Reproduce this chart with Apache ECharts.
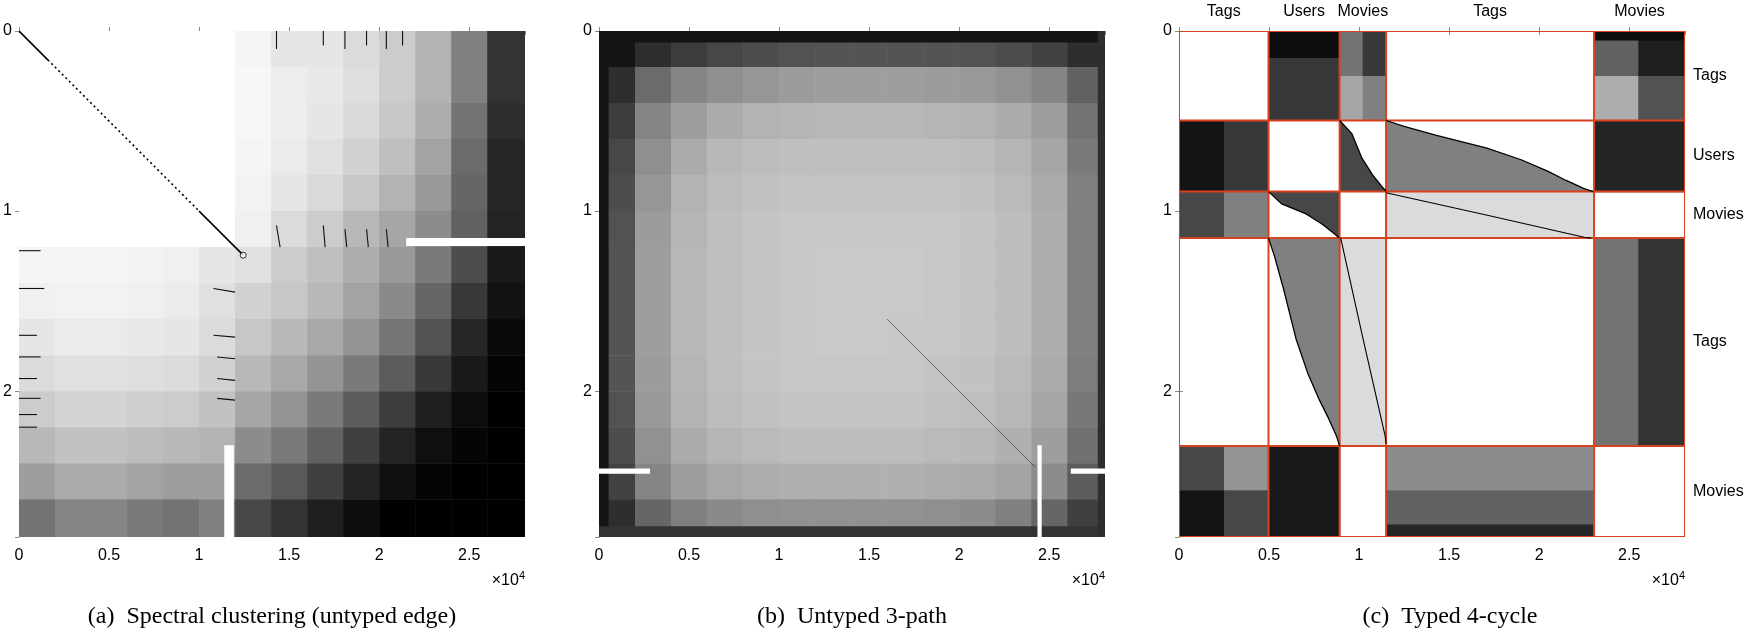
<!DOCTYPE html>
<html><head><meta charset="utf-8">
<script src="https://cdn.jsdelivr.net/npm/echarts@6/dist/echarts.min.js"></script>
<style>html,body{margin:0;padding:0;background:#fff}#c{width:1748px;height:634px}</style>
</head><body><div id="c"></div>
<script>
// ---------- data (matrix indices in units of 1e4) ----------
const N = 2.81;
const xTickStep = 0.5;
const yTickStep = 1;
const bins = [0,0.2,0.4,0.6,0.8,1.0,1.2,1.4,1.6,1.8,2.0,2.2,2.4,2.6,2.81];

// (a) spectral clustering: estimated nonzero density per bin (rows = y bins, cols = x bins)
const densityA = [
 [0,0,0,0,0,0, 0.04,0.10,0.10,0.14,0.20,0.30,0.50,0.80],
 [0,0,0,0,0,0, 0.03,0.07,0.09,0.13,0.20,0.30,0.50,0.80],
 [0,0,0,0,0,0, 0.03,0.07,0.10,0.15,0.22,0.32,0.55,0.82],
 [0,0,0,0,0,0, 0.04,0.08,0.12,0.18,0.25,0.36,0.58,0.85],
 [0,0,0,0,0,0, 0.05,0.10,0.15,0.22,0.30,0.40,0.60,0.85],
 [0,0,0,0,0,0, 0.06,0.14,0.20,0.28,0.35,0.45,0.62,0.86],
 [0.04,0.04,0.04,0.05,0.06,0.10, 0.12,0.20,0.25,0.32,0.40,0.52,0.70,0.90],
 [0.06,0.05,0.05,0.06,0.08,0.12, 0.18,0.22,0.28,0.36,0.46,0.60,0.78,0.93],
 [0.10,0.08,0.08,0.09,0.10,0.14, 0.22,0.28,0.34,0.42,0.54,0.68,0.85,0.96],
 [0.14,0.12,0.12,0.13,0.14,0.18, 0.28,0.34,0.42,0.52,0.64,0.78,0.90,0.98],
 [0.20,0.17,0.17,0.19,0.20,0.24, 0.35,0.42,0.52,0.64,0.76,0.88,0.95,1.00],
 [0.28,0.24,0.24,0.26,0.28,0.30, 0.45,0.52,0.62,0.75,0.86,0.94,0.98,1.00],
 [0.38,0.33,0.33,0.36,0.38,0.38, 0.58,0.65,0.75,0.86,0.94,0.98,1.00,1.00],
 [0.55,0.48,0.48,0.52,0.55,0.50, 0.72,0.80,0.88,0.95,1.00,1.00,1.00,1.00]
];
const gapsA = [[1.14,1.19,2.30,2.81],[2.15,2.81,1.15,1.19]];            // empty stripes [x0,x1,y0,y1]
const diagSolidA = [[0,0,0.16,0.16],[1.0,1.0,1.245,1.245]];             // [x0,y0,x1,y1]
const diagDottedA = [[0.16,0.16,1.0,1.0]];
const diagEndA = [[1.245,1.245]];
const streaksA = [
 [0,1.22,0.12,1.22],[0,1.43,0.14,1.43],[0,1.69,0.10,1.69],[0,1.81,0.12,1.81],
 [0,1.93,0.10,1.93],[0,2.04,0.12,2.04],[0,2.13,0.10,2.13],[0,2.20,0.10,2.20],
 [1.43,0,1.43,0.10],[1.69,0,1.69,0.08],[1.81,0,1.81,0.10],
 [1.93,0,1.93,0.08],[2.04,0,2.04,0.10],[2.13,0,2.13,0.08],
 [1.43,1.08,1.45,1.2],[1.69,1.08,1.70,1.2],[1.81,1.1,1.82,1.2],[1.93,1.1,1.94,1.2],[2.04,1.1,2.05,1.2],
 [1.08,1.43,1.2,1.45],[1.08,1.69,1.2,1.70],[1.1,1.81,1.2,1.82],[1.1,1.93,1.2,1.94],[1.1,2.04,1.2,2.05]
];

// (b) untyped 3-path
const densityB = [
 [0.92,0.82,0.76,0.72,0.70,0.68,0.67,0.67,0.67,0.67,0.68,0.70,0.74,0.82],
 [0.82,0.58,0.48,0.44,0.41,0.39,0.38,0.38,0.38,0.39,0.40,0.43,0.48,0.62],
 [0.76,0.48,0.38,0.33,0.30,0.29,0.28,0.28,0.28,0.29,0.30,0.33,0.38,0.55],
 [0.72,0.44,0.33,0.28,0.26,0.25,0.25,0.25,0.25,0.25,0.26,0.29,0.35,0.52],
 [0.70,0.41,0.30,0.26,0.24,0.23,0.23,0.23,0.23,0.23,0.24,0.27,0.33,0.50],
 [0.68,0.39,0.29,0.25,0.23,0.22,0.22,0.22,0.22,0.22,0.23,0.26,0.32,0.50],
 [0.67,0.38,0.28,0.25,0.23,0.22,0.21,0.21,0.21,0.22,0.23,0.26,0.32,0.50],
 [0.67,0.38,0.28,0.25,0.23,0.22,0.21,0.21,0.21,0.22,0.23,0.26,0.32,0.50],
 [0.67,0.38,0.28,0.25,0.23,0.22,0.21,0.21,0.22,0.22,0.23,0.26,0.32,0.50],
 [0.67,0.39,0.29,0.25,0.23,0.22,0.22,0.22,0.22,0.23,0.24,0.27,0.33,0.51],
 [0.68,0.40,0.30,0.26,0.24,0.23,0.23,0.23,0.23,0.24,0.25,0.28,0.35,0.53],
 [0.70,0.43,0.33,0.29,0.27,0.26,0.26,0.26,0.26,0.27,0.28,0.31,0.38,0.56],
 [0.74,0.48,0.38,0.34,0.32,0.31,0.31,0.31,0.31,0.32,0.33,0.36,0.45,0.64],
 [0.82,0.60,0.50,0.46,0.44,0.43,0.43,0.43,0.43,0.44,0.45,0.50,0.60,0.75]
];
const edgesB = [[0,N,0,0.06,0.92],[0,0.05,0,N,0.92],[0,N,2.75,N,0.8],[2.77,N,0,N,0.82]];
const gapsB = [[0,0.28,2.43,2.455],[2.62,N,2.43,2.455],[2.435,2.455,2.30,N]];
const diagB = [[1.6,1.6],[2.42,2.42]];

// (c) typed 4-cycle: block boundaries and block names
const blocksC = [0,0.497,0.892,1.15,2.305,2.81];
const blockNamesC = ['Tags','Users','Movies','Tags','Movies'];
const cellsC = [
 [0.497,0.892,0,0.15,0.95],[0.497,0.892,0.15,0.497,0.78],
 [0.892,1.02,0,0.25,0.55],[1.02,1.15,0,0.25,0.78],[0.892,1.02,0.25,0.497,0.35],[1.02,1.15,0.25,0.497,0.5],
 [2.305,2.55,0,0.25,0.62],[2.55,2.81,0,0.25,0.88],[2.305,2.55,0.25,0.497,0.32],[2.55,2.81,0.25,0.497,0.68],[2.305,2.81,0,0.05,0.95],
 [0,0.25,0.497,0.892,0.92],[0.25,0.497,0.497,0.892,0.78],
 [2.305,2.81,0.497,0.892,0.86],
 [0,0.25,0.892,1.15,0.72],[0.25,0.497,0.892,1.15,0.5],
 [1.15,2.305,0.892,1.15,0.14],
 [0.892,1.15,1.15,2.305,0.14],
 [2.305,2.55,1.15,2.305,0.55],[2.55,2.81,1.15,2.305,0.8],
 [0,0.25,2.305,2.55,0.72],[0.25,0.497,2.305,2.55,0.42],[0,0.25,2.55,2.81,0.92],[0.25,0.497,2.55,2.81,0.72],
 [0.497,0.892,2.305,2.81,0.9],
 [1.15,2.305,2.305,2.55,0.45],[1.15,2.305,2.55,2.81,0.62],[1.15,2.305,2.74,2.81,0.85]
];
const curveUM = [[0.892,0.497],[0.96,0.57],[1.016,0.706],[1.073,0.796],[1.13,0.868],[1.15,0.89]];
const curveUT = [[1.15,0.497],[1.25,0.53],[1.43,0.58],[1.71,0.65],[1.9,0.715],[2.05,0.78],[2.15,0.83],[2.25,0.875],[2.3,0.892]];
const curveMU = [[0.497,0.892],[0.57,0.96],[0.706,1.016],[0.796,1.073],[0.868,1.13],[0.89,1.15]];
const curveTU = [[0.497,1.15],[0.53,1.25],[0.58,1.43],[0.65,1.71],[0.715,1.9],[0.78,2.05],[0.83,2.15],[0.875,2.25],[0.892,2.305]];
const lineMT = [[1.15,0.898],[1.7,1.02],[2.25,1.145],[2.29,1.15]];
const lineTM = [[0.898,1.15],[1.02,1.7],[1.145,2.25],[1.15,2.29]];
const polyDensC = [0.72,0.5,0.72,0.5];

const captions = ['(a)  Spectral clustering (untyped edge)','(b)  Untyped 3-path','(c)  Typed 4-cycle'];

// ---------- build ----------
const GRIDS = [{left:19,top:31,width:506,height:506},{left:599,top:31,width:506,height:506},{left:1179,top:31,width:506,height:506}];
const AXC = '#8a8a8a';
const FONT = 'Liberation Sans, Arial, sans-serif';

function gray(d){const g=Math.round(255*(1-d));return 'rgb('+g+','+g+','+g+')';}
function renderCell(params, api){
  const a = api.coord([api.value(0), api.value(2)]);
  const b = api.coord([api.value(1), api.value(3)]);
  return {type:'rect', shape:{x:Math.min(a[0],b[0]), y:Math.min(a[1],b[1]),
    width:Math.abs(b[0]-a[0])+0.6, height:Math.abs(b[1]-a[1])+0.6},
    style:{fill:gray(api.value(4))}};
}
function cellSeries(gi, data){
  return {type:'custom', xAxisIndex:2*gi, yAxisIndex:2*gi, renderItem:renderCell, data:data,
    encode:{x:[0,1], y:[2,3]}, clip:true, silent:true, animation:false};
}
function segSeries(gi, data, stroke, width, dash){
  return {type:'custom', xAxisIndex:2*gi, yAxisIndex:2*gi, data:data, encode:{x:[0,2], y:[1,3]},
    clip:true, silent:true, animation:false, z:3,
    renderItem:function(p, api){
      const a = api.coord([api.value(0), api.value(1)]);
      const b = api.coord([api.value(2), api.value(3)]);
      return {type:'line', shape:{x1:a[0],y1:a[1],x2:b[0],y2:b[1]},
        style:{stroke:stroke, lineWidth:width, lineDash:dash||null}};
    }};
}
function lineSeries(gi, data, color, width, opacity){
  return {type:'line', xAxisIndex:2*gi, yAxisIndex:2*gi, data:data, showSymbol:false, symbol:'none',
    lineStyle:{color:color, width:width, opacity:opacity==null?1:opacity}, silent:true, animation:false, z:3};
}
function polySeries(gi, polys, dens){
  return {type:'custom', xAxisIndex:2*gi, yAxisIndex:2*gi, data:polys.map(function(p,i){return [i];}),
    clip:true, silent:true, animation:false, z:2,
    renderItem:function(p, api){
      const i = api.value(0);
      const pts = polys[i].map(function(q){return api.coord(q);});
      return {type:'polygon', shape:{points:pts}, style:{fill:gray(dens[i])}};
    }};
}

const xAxes = [], yAxes = [];
GRIDS.forEach(function(g, i){
  const common = {type:'value', min:0, max:N, gridIndex:i, splitLine:{show:false},
    axisLine:{show:true, lineStyle:{color:AXC, width:1}},
    axisTick:{show:true, inside:true, length:4, lineStyle:{color:AXC}}};
  xAxes.push(Object.assign({}, common, {position:'bottom', interval:xTickStep,
    axisLabel:{show:true, margin:11, fontSize:16, color:'#000', fontFamily:FONT, showMaxLabel:false,
      formatter:function(v){return String(+v.toFixed(2));}}}));
  xAxes.push(Object.assign({}, common, {position:'top', interval:xTickStep, axisLabel:{show:false}}));
  yAxes.push(Object.assign({}, common, {position:'left', inverse:true, interval:yTickStep,
    axisLabel:{show:true, margin:7, fontSize:16, color:'#000', fontFamily:FONT, showMaxLabel:false,
      formatter:function(v){return String(+v.toFixed(2));}}}));
  yAxes.push(Object.assign({}, common, {position:'right', inverse:true, interval:yTickStep, axisLabel:{show:false}}));
});

// panel a cells
const cellsA = [];
densityA.forEach(function(row, r){ row.forEach(function(d, c){ cellsA.push([bins[c],bins[c+1],bins[r],bins[r+1],d]); }); });
gapsA.forEach(function(g){ cellsA.push([g[0],g[1],g[2],g[3],0]); });
// panel b cells
const cellsB = [];
densityB.forEach(function(row, r){ row.forEach(function(d, c){ cellsB.push([bins[c],bins[c+1],bins[r],bins[r+1],d]); }); });
edgesB.forEach(function(e){ cellsB.push(e); });
gapsB.forEach(function(g){ cellsB.push([g[0],g[1],g[2],g[3],0]); });

// panel c polygons (region bounded by curve and block edges)
const polysC = [
  curveUM.concat([[1.15,0.892],[0.892,0.892]]),
  curveUT.concat([[1.15,0.892]]),
  curveMU.concat([[0.892,1.15],[0.892,0.892]]),
  curveTU.concat([[0.892,1.15]])
];
// red block borders
const bordersC = [];
blocksC.forEach(function(b){ bordersC.push([b,0,b,N]); bordersC.push([0,b,N,b]); });
const midsC = blocksC.slice(0,-1).map(function(b,i){return (b+blocksC[i+1])/2;});

const series = [
  cellSeries(0, cellsA),
  segSeries(0, streaksA, '#111', 1.1),
  segSeries(0, diagSolidA, '#000', 1.6),
  segSeries(0, diagDottedA, '#000', 1.6, [2,3]),
  {type:'scatter', xAxisIndex:0, yAxisIndex:0, data:diagEndA, symbol:'circle', symbolSize:6,
   itemStyle:{color:'#fff', borderColor:'#000', borderWidth:1}, silent:true, animation:false, z:4},
  cellSeries(1, cellsB),
  lineSeries(1, diagB, '#333', 1, 0.6),
  cellSeries(2, cellsC),
  polySeries(2, polysC, polyDensC),
  lineSeries(2, curveUM, '#000', 1.3),
  lineSeries(2, curveUT, '#000', 1.3),
  lineSeries(2, curveMU, '#000', 1.3),
  lineSeries(2, curveTU, '#000', 1.3),
  lineSeries(2, lineMT, '#000', 1.1),
  lineSeries(2, lineTM, '#000', 1.1),
  segSeries(2, bordersC, '#d8431f', 2),
  {type:'custom', xAxisIndex:4, yAxisIndex:4, data:midsC.map(function(m,i){return [m,i];}), clip:false,
   silent:true, animation:false, z:5,
   renderItem:function(p, api){
     const m = api.value(0), i = api.value(1);
     const top = api.coord([m, 0]);
     const right = api.coord([N, m]);
     return {type:'group', children:[
       {type:'text', x:top[0], y:top[1]-19, style:{text:blockNamesC[i], fill:'#000', font:'16px '+FONT,
         align:'center', verticalAlign:'middle', textAlign:'center', textVerticalAlign:'middle'}},
       {type:'text', x:right[0]+8, y:right[1], style:{text:blockNamesC[i], fill:'#000', font:'16px '+FONT,
         align:'left', verticalAlign:'middle', textAlign:'left', textVerticalAlign:'middle'}}
     ]};
   }}
];

const graphics = [];
GRIDS.forEach(function(g, i){
  graphics.push({type:'text', right: 1748-(g.left+g.width), top: 570,
    style:{text:'{a|×10}{b|4}', rich:{a:{fontSize:16, fontFamily:FONT, fill:'#000', color:'#000'},
      b:{fontSize:11, fontFamily:FONT, fill:'#000', color:'#000', padding:[0,0,10,0]}}}});
});
const capX = [272, 852, 1450];
captions.forEach(function(t, i){
  graphics.push({type:'text', x:capX[i], y:617,
    style:{text:t, fill:'#000', font:'24px "Liberation Serif", "DejaVu Serif", serif',
      align:'center', verticalAlign:'middle', textAlign:'center', textVerticalAlign:'middle'}});
});

const chart = echarts.init(document.getElementById('c'), null, {renderer:'canvas'});
chart.setOption({
  animation:false,
  backgroundColor:'#fff',
  grid: GRIDS.map(function(g){return Object.assign({containLabel:false, show:false}, g);}),
  xAxis: xAxes, yAxis: yAxes,
  series: series,
  graphic: graphics
});
</script></body></html>
